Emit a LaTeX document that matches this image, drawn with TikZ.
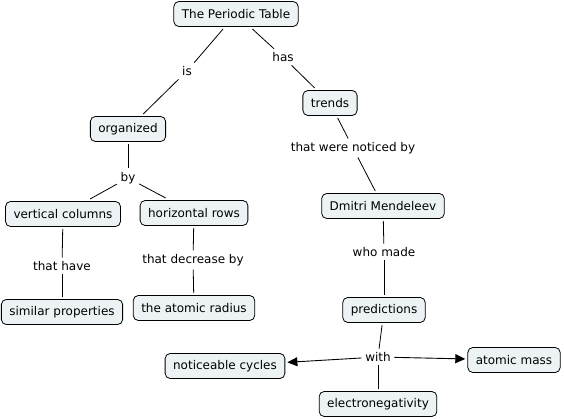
\documentclass[tikz,border=0pt]{standalone}
\usepackage{fontspec}
\setmainfont{DejaVu Sans}
\usepackage{xcolor}
\usepackage{tikz}
\usetikzlibrary{arrows.meta}

\definecolor{conceptfill}{HTML}{EDF3F5}

\begin{document}
\begin{tikzpicture}[x=1pt,y=-1pt,
  font=\fontsize{12}{14}\selectfont,
  concept/.style={draw=black,fill=conceptfill,rounded corners=5pt,line width=0.8pt,
    minimum height=25pt,inner xsep=8pt,inner ysep=3pt,outer sep=2.5pt},
  linkword/.style={inner sep=3.5pt},
  link/.style={line width=0.8pt},
  linkarrow/.style={line width=0.9pt,-{Triangle[length=10pt,width=9pt]}}]

\useasboundingbox (0,0) rectangle (564,419);

% conceptos
\node[concept] (table) at (236,14) {The Periodic Table};
\node[concept] (organized) at (128,129) {organized};
\node[concept] (trends) at (330,103) {trends};
\node[concept] (mendeleev) at (383,206) {Dmitri Mendeleev};
\node[concept] (vertical) at (63,214) {vertical columns};
\node[concept] (horizontal) at (194,213) {horizontal rows};
\node[concept] (similar) at (62,312) {similar properties};
\node[concept] (radius) at (194,308) {the atomic radius};
\node[concept] (predictions) at (384,310) {predictions};
\node[concept] (cycles) at (225,366) {noticeable cycles};
\node[concept] (mass) at (514,360) {atomic mass};
\node[concept] (electro) at (378,404) {electronegativity};

% palabras de enlace
\node[linkword] (is) at (187,71) {is};
\node[linkword] (has) at (283,57) {has};
\node[linkword] (noticed) at (353,148) {that were noticed by};
\node[linkword] (made) at (384,252) {who made};
\node[linkword] (by) at (128,178) {by};
\node[linkword] (have) at (62,266) {that have};
\node[linkword] (decrease) at (193,260) {that decrease by};
\node[linkword] (with) at (378,357) {with};

%   lineas

\draw[link] (table) -- (is);
\draw[link] (is) -- (organized);
\draw[link] (table) -- (has);
\draw[link] (has) -- (trends);
\draw[link] (trends) -- (noticed);
\draw[link] (noticed) -- (mendeleev);
\draw[link] (mendeleev) -- (made);
\draw[link] (made) -- (predictions);
\draw[link] (organized) -- (by);
\draw[link] (by) -- (vertical);
\draw[link] (by) -- (horizontal);
\draw[link] (vertical) -- (have);
\draw[link] (have) -- (similar);
\draw[link] (horizontal) -- (decrease);
\draw[link] (decrease) -- (radius);
\draw[link] (predictions) -- (with);
\draw[link] (with) -- (electro);
\draw[linkarrow] (with) -- (cycles);
\draw[linkarrow] (with) -- (mass);

\end{tikzpicture}
\end{document}
